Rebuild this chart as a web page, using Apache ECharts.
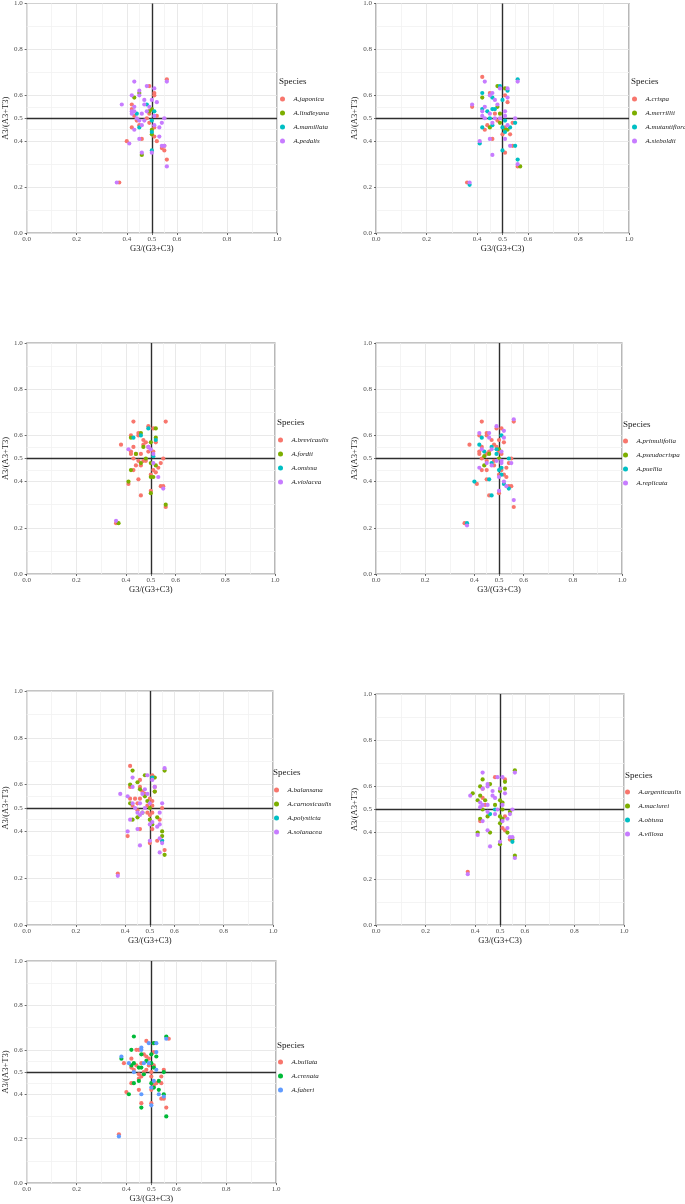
<!DOCTYPE html>
<html>
<head>
<meta charset="utf-8">
<script src="https://cdn.jsdelivr.net/npm/echarts@6/dist/echarts.min.js"></script>
<style>html,body{margin:0;padding:0;background:#fff}#c{width:685px;height:1204px}</style>
</head>
<body>
<div id="c"></div>
<script>
// ---------- DATA ----------
const axisTicks = [0, 0.2, 0.4, 0.5, 0.6, 0.8, 1.0];
const xTitle = 'G3/(G3+C3)';
const yTitle = 'A3/(A3+T3)';
const legendTitle = 'Species';

const p1Names = ['A.japonica', 'A.lindleyana', 'A.mamillata', 'A.pedalis'];
const p1_japonica = [[0.56,0.67],[0.49,0.64],[0.51,0.61],[0.51,0.60],[0.42,0.56],[0.42,0.54],[0.52,0.51],[0.43,0.51],[0.48,0.50],[0.49,0.48],[0.42,0.46],[0.45,0.47],[0.51,0.46],[0.51,0.42],[0.52,0.40],[0.40,0.40],[0.46,0.41],[0.54,0.37],[0.55,0.36],[0.56,0.32],[0.37,0.22],[0.49,0.53],[0.49,0.52],[0.55,0.38],[0.44,0.49]];
const p1_lindleyana = [[0.45,0.61],[0.43,0.59],[0.50,0.54],[0.49,0.53],[0.50,0.45],[0.46,0.34],[0.50,0.43]];
const p1_mamillata = [[0.48,0.56],[0.44,0.52],[0.45,0.46],[0.51,0.53],[0.50,0.49],[0.50,0.44],[0.50,0.36]];
const p1_pedalis = [[0.43,0.66],[0.48,0.64],[0.45,0.62],[0.51,0.63],[0.56,0.66],[0.42,0.60],[0.45,0.60],[0.47,0.58],[0.50,0.58],[0.52,0.57],[0.38,0.56],[0.43,0.55],[0.47,0.56],[0.49,0.55],[0.42,0.53],[0.43,0.53],[0.46,0.52],[0.48,0.53],[0.42,0.52],[0.44,0.50],[0.45,0.49],[0.47,0.49],[0.55,0.50],[0.54,0.48],[0.51,0.47],[0.46,0.47],[0.43,0.45],[0.53,0.46],[0.53,0.42],[0.45,0.41],[0.41,0.39],[0.46,0.35],[0.50,0.35],[0.54,0.38],[0.55,0.38],[0.56,0.29],[0.36,0.22],[0.51,0.51]];

const p2Names = ['A.crispa', 'A.merrillii', 'A.mutantiflora', 'A.sieboldii'];
const p2_crispa = [[0.42,0.68],[0.36,0.22],[0.38,0.55],[0.45,0.61],[0.51,0.60],[0.52,0.57],[0.44,0.47],[0.43,0.45],[0.46,0.41],[0.50,0.43],[0.53,0.43],[0.51,0.35],[0.54,0.48],[0.54,0.38],[0.56,0.29],[0.48,0.49],[0.51,0.46],[0.47,0.52]];
const p2_merrillii = [[0.42,0.59],[0.48,0.64],[0.51,0.63],[0.48,0.55],[0.49,0.52],[0.45,0.46],[0.49,0.48],[0.52,0.45],[0.57,0.29],[0.51,0.45]];
const p2_mutantiflora = [[0.42,0.61],[0.49,0.64],[0.56,0.67],[0.52,0.62],[0.46,0.59],[0.50,0.58],[0.42,0.54],[0.44,0.53],[0.46,0.54],[0.47,0.54],[0.45,0.50],[0.51,0.49],[0.50,0.46],[0.53,0.46],[0.55,0.48],[0.42,0.46],[0.46,0.47],[0.51,0.44],[0.41,0.39],[0.55,0.38],[0.50,0.36],[0.56,0.32],[0.37,0.21]];
const p2_sieboldii = [[0.43,0.66],[0.56,0.66],[0.49,0.63],[0.52,0.63],[0.46,0.61],[0.45,0.60],[0.52,0.59],[0.47,0.58],[0.48,0.56],[0.38,0.56],[0.43,0.55],[0.42,0.53],[0.45,0.52],[0.42,0.51],[0.51,0.53],[0.51,0.51],[0.43,0.50],[0.47,0.50],[0.55,0.50],[0.52,0.47],[0.49,0.50],[0.46,0.48],[0.45,0.41],[0.51,0.41],[0.41,0.40],[0.53,0.38],[0.46,0.34],[0.56,0.30],[0.37,0.22]];

const p3Names = ['A.brevicaulis', 'A.fordii', 'A.omissa', 'A.violacea'];
const p3_brevicaulis = [[0.43,0.66],[0.56,0.66],[0.49,0.64],[0.51,0.63],[0.42,0.60],[0.45,0.61],[0.45,0.60],[0.38,0.56],[0.52,0.57],[0.47,0.58],[0.48,0.57],[0.43,0.55],[0.47,0.56],[0.49,0.55],[0.42,0.53],[0.42,0.52],[0.44,0.52],[0.46,0.52],[0.49,0.53],[0.51,0.53],[0.43,0.50],[0.45,0.49],[0.47,0.49],[0.48,0.49],[0.55,0.50],[0.44,0.47],[0.46,0.47],[0.54,0.48],[0.53,0.46],[0.51,0.45],[0.52,0.44],[0.43,0.45],[0.50,0.43],[0.45,0.41],[0.41,0.39],[0.54,0.38],[0.55,0.38],[0.50,0.36],[0.46,0.34],[0.56,0.29],[0.36,0.22]];
const p3_fordii = [[0.52,0.63],[0.42,0.59],[0.46,0.61],[0.52,0.59],[0.50,0.57],[0.47,0.55],[0.44,0.52],[0.48,0.50],[0.50,0.48],[0.46,0.48],[0.52,0.47],[0.42,0.45],[0.41,0.40],[0.50,0.42],[0.51,0.42],[0.50,0.35],[0.56,0.30],[0.37,0.22]];
const p3_omissa = [[0.49,0.63],[0.43,0.59],[0.46,0.60],[0.52,0.58],[0.51,0.51]];
const p3_violacea = [[0.41,0.54],[0.49,0.55],[0.50,0.54],[0.51,0.52],[0.51,0.48],[0.53,0.42],[0.55,0.37],[0.36,0.23]];

const p4Names = ['A.primulifolia', 'A.pseudocrispa', 'A.puellia', 'A.replicata'];
const p4_primulifolia = [[0.43,0.66],[0.56,0.66],[0.49,0.63],[0.51,0.63],[0.42,0.60],[0.45,0.61],[0.45,0.60],[0.38,0.56],[0.52,0.57],[0.47,0.58],[0.50,0.58],[0.43,0.55],[0.48,0.56],[0.49,0.55],[0.42,0.53],[0.42,0.52],[0.45,0.52],[0.46,0.53],[0.50,0.53],[0.51,0.52],[0.43,0.50],[0.45,0.49],[0.48,0.49],[0.55,0.50],[0.43,0.45],[0.45,0.45],[0.54,0.48],[0.53,0.46],[0.51,0.45],[0.52,0.43],[0.50,0.43],[0.53,0.42],[0.45,0.41],[0.41,0.39],[0.54,0.38],[0.55,0.38],[0.50,0.35],[0.46,0.34],[0.56,0.29],[0.36,0.22],[0.48,0.47]];
const p4_pseudocrispa = [[0.44,0.51],[0.44,0.47],[0.46,0.52],[0.50,0.54],[0.50,0.50]];
const p4_puellia = [[0.43,0.59],[0.42,0.56],[0.51,0.60],[0.47,0.55],[0.49,0.52],[0.49,0.54],[0.44,0.53],[0.47,0.48],[0.51,0.46],[0.54,0.50],[0.50,0.45],[0.51,0.43],[0.40,0.40],[0.46,0.41],[0.52,0.39],[0.54,0.37],[0.47,0.34],[0.37,0.22]];
const p4_replicata = [[0.56,0.67],[0.49,0.64],[0.52,0.62],[0.42,0.61],[0.46,0.61],[0.46,0.59],[0.52,0.59],[0.43,0.54],[0.47,0.54],[0.51,0.53],[0.45,0.48],[0.47,0.47],[0.51,0.48],[0.55,0.48],[0.42,0.46],[0.49,0.49],[0.50,0.42],[0.52,0.40],[0.53,0.38],[0.50,0.36],[0.56,0.32],[0.37,0.21],[0.51,0.49]];

const p5Names = ['A.balansana', 'A.carnosicaulis', 'A.polysticta', 'A.solanacea'];
const p5_balansana = [[0.42,0.68],[0.51,0.64],[0.46,0.62],[0.42,0.59],[0.46,0.59],[0.52,0.59],[0.52,0.57],[0.47,0.57],[0.48,0.56],[0.42,0.54],[0.44,0.54],[0.46,0.54],[0.50,0.54],[0.51,0.53],[0.43,0.51],[0.45,0.52],[0.49,0.51],[0.51,0.51],[0.55,0.50],[0.45,0.49],[0.49,0.48],[0.50,0.47],[0.51,0.48],[0.54,0.45],[0.46,0.41],[0.51,0.41],[0.41,0.38],[0.53,0.36],[0.50,0.35],[0.56,0.32],[0.37,0.22],[0.55,0.36]];
const p5_carnosicaulis = [[0.43,0.66],[0.48,0.64],[0.52,0.63],[0.56,0.66],[0.45,0.61],[0.42,0.60],[0.46,0.58],[0.52,0.57],[0.48,0.55],[0.42,0.52],[0.49,0.53],[0.45,0.46],[0.47,0.48],[0.43,0.45],[0.50,0.45],[0.53,0.46],[0.51,0.43],[0.55,0.40],[0.55,0.38],[0.56,0.30],[0.50,0.50]];
const p5_polysticta = [[0.51,0.63],[0.55,0.36]];
const p5_solanacea = [[0.56,0.67],[0.49,0.64],[0.51,0.62],[0.43,0.63],[0.43,0.59],[0.52,0.59],[0.38,0.56],[0.48,0.58],[0.47,0.56],[0.41,0.55],[0.49,0.56],[0.43,0.52],[0.46,0.52],[0.50,0.52],[0.44,0.50],[0.48,0.50],[0.45,0.48],[0.47,0.48],[0.46,0.47],[0.55,0.52],[0.54,0.48],[0.51,0.44],[0.50,0.43],[0.54,0.43],[0.53,0.42],[0.42,0.45],[0.41,0.40],[0.45,0.41],[0.54,0.37],[0.55,0.35],[0.50,0.36],[0.46,0.34],[0.54,0.31],[0.37,0.21]];

const p6Names = ['A.argenticaulis', 'A.maclurei', 'A.obtusa', 'A.villosa'];
const p6_argenticaulis = [[0.48,0.64],[0.52,0.63],[0.43,0.55],[0.44,0.52],[0.42,0.45],[0.52,0.47],[0.51,0.42],[0.52,0.41],[0.54,0.37],[0.37,0.23],[0.43,0.59]];
const p6_maclurei = [[0.43,0.63],[0.56,0.67],[0.42,0.60],[0.46,0.61],[0.52,0.62],[0.52,0.59],[0.50,0.58],[0.39,0.57],[0.42,0.56],[0.41,0.54],[0.44,0.54],[0.43,0.50],[0.48,0.52],[0.50,0.54],[0.51,0.50],[0.51,0.53],[0.54,0.49],[0.45,0.47],[0.50,0.47],[0.42,0.46],[0.50,0.44],[0.51,0.46],[0.53,0.40],[0.46,0.40],[0.41,0.40],[0.55,0.37],[0.50,0.35],[0.56,0.30]];
const p6_obtusa = [[0.48,0.50],[0.46,0.48],[0.55,0.36]];
const p6_villosa = [[0.43,0.66],[0.56,0.66],[0.49,0.64],[0.51,0.64],[0.45,0.61],[0.45,0.60],[0.43,0.59],[0.50,0.59],[0.52,0.57],[0.38,0.56],[0.47,0.58],[0.47,0.56],[0.48,0.55],[0.51,0.52],[0.42,0.53],[0.43,0.52],[0.45,0.52],[0.42,0.51],[0.49,0.50],[0.45,0.49],[0.55,0.50],[0.54,0.48],[0.51,0.45],[0.53,0.46],[0.43,0.45],[0.48,0.48],[0.45,0.41],[0.53,0.42],[0.41,0.39],[0.54,0.38],[0.55,0.38],[0.50,0.36],[0.46,0.34],[0.56,0.29],[0.37,0.22]];

const p7Names = ['A.bullata', 'A.crenata', 'A.faberi'];
const p7_bullata = [[0.48,0.64],[0.51,0.63],[0.57,0.65],[0.44,0.60],[0.45,0.60],[0.42,0.56],[0.47,0.58],[0.48,0.57],[0.49,0.56],[0.51,0.59],[0.39,0.54],[0.42,0.52],[0.44,0.53],[0.46,0.54],[0.49,0.53],[0.51,0.53],[0.43,0.51],[0.45,0.49],[0.47,0.50],[0.48,0.51],[0.50,0.50],[0.50,0.48],[0.55,0.51],[0.54,0.48],[0.46,0.48],[0.45,0.47],[0.42,0.45],[0.52,0.45],[0.54,0.45],[0.50,0.42],[0.45,0.42],[0.40,0.41],[0.54,0.38],[0.55,0.38],[0.46,0.36],[0.50,0.36],[0.56,0.34],[0.37,0.22],[0.51,0.44]];
const p7_crenata = [[0.43,0.66],[0.56,0.66],[0.51,0.63],[0.42,0.60],[0.46,0.58],[0.50,0.58],[0.52,0.57],[0.38,0.56],[0.48,0.55],[0.43,0.54],[0.42,0.53],[0.45,0.52],[0.46,0.52],[0.51,0.52],[0.47,0.49],[0.55,0.50],[0.45,0.46],[0.50,0.45],[0.43,0.45],[0.53,0.46],[0.51,0.43],[0.53,0.42],[0.55,0.40],[0.41,0.40],[0.46,0.34],[0.56,0.30],[0.50,0.54]];
const p7_faberi = [[0.49,0.63],[0.52,0.63],[0.56,0.65],[0.46,0.61],[0.46,0.60],[0.38,0.57],[0.52,0.59],[0.41,0.54],[0.47,0.54],[0.49,0.54],[0.43,0.50],[0.52,0.51],[0.51,0.46],[0.46,0.40],[0.53,0.40],[0.55,0.39],[0.50,0.35],[0.37,0.21],[0.50,0.43]];

const palette4 = ['#F8766D', '#7CAE00', '#00BFC4', '#C77CFF'];
const palette3 = ['#F8766D', '#00BA38', '#619CFF'];

// ---------- LAYOUT ----------
const panels = [
  { names: p1Names, data: [p1_japonica, p1_lindleyana, p1_mamillata, p1_pedalis], colors: palette4,
    grid: { left: 22, top: 3, width: 255, height: 230 }, sp: [279, 83], lg: [280, 99] },
  { names: p2Names, data: [p2_crispa, p2_merrillii, p2_mutantiflora, p2_sieboldii], colors: palette4,
    grid: { left: 376, top: 3, width: 253, height: 230 }, sp: [631, 83], lg: [632, 99] },
  { names: p3Names, data: [p3_brevicaulis, p3_fordii, p3_omissa, p3_violacea], colors: palette4,
    grid: { left: 22, top: 343, width: 253, height: 231 }, sp: [277, 424], lg: [278, 440] },
  { names: p4Names, data: [p4_primulifolia, p4_pseudocrispa, p4_puellia, p4_replicata], colors: palette4,
    grid: { left: 376, top: 343, width: 246, height: 231 }, sp: [623, 426], lg: [623, 441] },
  { names: p5Names, data: [p5_balansana, p5_carnosicaulis, p5_polysticta, p5_solanacea], colors: palette4,
    grid: { left: 22, top: 691, width: 251, height: 234 }, sp: [273, 774], lg: [274, 790] },
  { names: p6Names, data: [p6_argenticaulis, p6_maclurei, p6_obtusa, p6_villosa], colors: palette4,
    grid: { left: 376, top: 694, width: 248, height: 231 }, sp: [625, 777], lg: [625, 792] },
  { names: p7Names, data: [p7_bullata, p7_crenata, p7_faberi], colors: palette3,
    grid: { left: 22, top: 961, width: 254, height: 224 }, sp: [277, 1047], lg: [278, 1062] }
];

const FONT = '"Liberation Serif", "DejaVu Serif", serif';
const MAJ = '#e3e3e3', MIN = '#f1f1f1', NONE = 'rgba(0,0,0,0)';
// grid-line colours for ticks every 0.05 from 0 to 1
const splitColors = [];
for (let i = 0; i <= 20; i++) {
  let c = NONE;
  if (i % 4 === 0 || i === 10) c = MAJ;
  else if (i === 2 || i === 6 || i === 14 || i === 18 || i === 9 || i === 11) c = MIN;
  splitColors.push(c);
}

// visible axis: labels, ticks, title
function labelAxis(isX, gi) {
  return {
    type: 'value', gridIndex: gi, min: 0, max: 1, interval: 0.1,
    name: isX ? xTitle : yTitle,
    nameLocation: 'middle', nameGap: isX ? 10 : 12, nameRotate: isX ? 0 : 90,
    nameTextStyle: { fontFamily: FONT, fontSize: 8.5, color: '#1a1a1a' },
    axisLine: { show: false },
    axisTick: { show: true, customValues: axisTicks, length: 2, lineStyle: { color: '#444', width: 0.8 } },
    axisLabel: { customValues: axisTicks, fontFamily: FONT, fontSize: 7, color: '#4d4d4d', margin: isX ? 3 : 4,
      formatter: v => Number(v).toFixed(1) },
    splitLine: { show: false },
    z: 2
  };
}
// hidden axis used only for the background grid lines
function gridAxis(gi) {
  return {
    type: 'value', gridIndex: gi, min: 0, max: 1, interval: 0.05,
    axisLine: { show: false }, axisTick: { show: false }, axisLabel: { show: false },
    splitLine: { show: true, lineStyle: { color: splitColors, width: 0.8 } },
    z: 0
  };
}

const option = { animation: false, grid: [], xAxis: [], yAxis: [], series: [], legend: [], title: [] };
panels.forEach((p, gi) => {
  option.grid.push(Object.assign({ show: true, borderColor: '#8a8a8a', borderWidth: 1.2, backgroundColor: '#fff' }, p.grid));
  option.xAxis.push(labelAxis(true, gi));
  option.yAxis.push(labelAxis(false, gi));
});
panels.forEach((p, gi) => {
  option.xAxis.push(gridAxis(gi));
  option.yAxis.push(gridAxis(gi));
});
panels.forEach((p, gi) => {
  p.names.forEach((n, si) => {
    const s = {
      type: 'scatter', name: n, xAxisIndex: gi, yAxisIndex: gi,
      data: p.data[si], symbolSize: 4.2,
      itemStyle: { color: p.colors[si], opacity: 1 },
      emphasis: { disabled: true }, z: 3
    };
    if (si === 0) {
      s.markLine = {
        silent: true, symbol: ['none', 'none'], label: { show: false }, z: 2,
        lineStyle: { color: '#2e2e2e', width: 1.4, type: 'solid' },
        emphasis: { disabled: true },
        data: [{ xAxis: 0.5 }, { yAxis: 0.5 }]
      };
    }
    option.series.push(s);
  });
  option.title.push({
    text: legendTitle, left: p.sp[0], top: p.sp[1] - 5.5, padding: 0,
    textStyle: { fontFamily: FONT, fontSize: 9, fontWeight: 'normal', color: '#1a1a1a' }
  });
  option.legend.push({
    data: p.names, orient: 'vertical', left: p.lg[0], top: p.lg[1] - 4.5, padding: 0,
    icon: 'circle', itemWidth: 12, itemHeight: 5, itemGap: 5, selectedMode: false,
    textStyle: { fontFamily: FONT, fontStyle: 'italic', fontSize: 7, lineHeight: 9, color: '#1a1a1a' }
  });
});

const chart = echarts.init(document.getElementById('c'), null, { renderer: 'canvas' });
chart.setOption(option);
</script>
</body>
</html>
